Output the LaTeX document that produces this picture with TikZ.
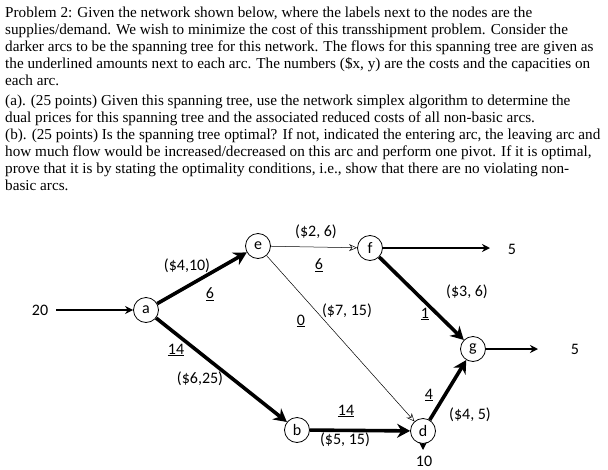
\documentclass[tikz,border=0pt]{standalone}
\usepackage{fontspec}
\setmainfont{Liberation Serif}
\newfontfamily\lab{Carlito}
\usetikzlibrary{arrows.meta}
\begin{document}
\begin{tikzpicture}[x=1pt,y=-1pt,
  nd/.style={circle,draw,line width=0.8pt,minimum size=25pt,inner sep=0pt,font=\lab\fontsize{16}{16}\selectfont,fill=white},
  tl/.style={anchor=base west,inner sep=0pt,font=\fontsize{15.2}{15}\selectfont},
  lb/.style={inner sep=1pt,font=\lab\fontsize{16}{16}\selectfont},
  thick arc/.style={line width=3.6pt,-{Stealth[length=13pt,width=14pt]}},
  thin arc/.style={line width=0.5pt,-{Stealth[length=8pt,width=7pt,open]}},
  ext/.style={line width=1.3pt,-{Stealth[length=8pt,width=8pt]}}]
\useasboundingbox (0,0) rectangle (608,469);
\node[tl] (t1) at (5,17) {Problem 2: Given the network shown below, where the labels next to the nodes are the};
\node[tl] (t2) at (5,34) {supplies/demand. We wish to minimize the cost of this transshipment problem. Consider the};
\node[tl] (t3) at (5,51) {darker arcs to be the spanning tree for this network. The flows for this spanning tree are given as};
\node[tl] (t4) at (5,68) {the underlined amounts next to each arc. The numbers (\$x, y) are the costs and the capacities on};
\node[tl] (t5) at (5,85) {each arc.};
\node[tl] (t6) at (5,105) {(a). (25 points) Given this spanning tree, use the network simplex algorithm to determine the};
\node[tl] (t7) at (5,122) {dual prices for this spanning tree and the associated reduced costs of all non-basic arcs.};
\node[tl] (t8) at (5,139) {(b). (25 points) Is the spanning tree optimal? If not, indicated the entering arc, the leaving arc and};
\node[tl] (t9) at (5,156) {how much flow would be increased/decreased on this arc and perform one pivot. If it is optimal,};
\node[tl] (t10) at (5,173) {prove that it is by stating the optimality conditions, i.e., show that there are no violating non-};
\node[tl] (t11) at (5,190) {basic arcs.};
% nodes
\node[nd] (a) at (146,310) {a};
\node[nd] (e) at (258,246) {e};
\node[nd] (f) at (370,248) {f};
\node[nd] (g) at (473,349) {g};
\node[nd] (b) at (297,430) {b};
\node[nd] (d) at (423,431) {d};
% external
\node[lb] (s20) at (40,310) {20};
\coordinate (s20r) at (56,310);
\node[lb] (f5) at (512,249) {5};
\coordinate (f5l) at (490,248);
\node[lb] (g5) at (575,349) {5};
\coordinate (g5l) at (538,349);
\node[lb] (d10) at (424,461) {10};
\coordinate (d10t) at (423,450);
% arcs
\draw[ext] (s20r) -- (a);
\draw[ext] (f) -- (f5l);
\draw[ext] (g) -- (g5l);
\draw[ext] (d) -- (d10t);
\draw[thick arc] (a) -- (e);
\draw[thick arc] (a) -- (b);
\draw[thick arc] (b) -- (d);
\draw[thick arc] (f) -- (g);
\draw[thick arc] (d) -- (g);
\draw[thin arc] (e) -- (f);
\draw[thin arc] (e) -- (d);
% labels
\node[lb] (l1) at (187,266) {(\$4,10)};
\node[lb] (l2) at (210,294) {\underline{6}};
\node[lb] (l3) at (316,232) {(\$2, 6)};
\node[lb] (l4) at (319,265) {\underline{6}};
\node[lb] (l5) at (301,321) {\underline{0}};
\node[lb] (l6) at (347,311) {(\$7, 15)};
\node[lb] (l7) at (425,314) {\underline{1}};
\node[lb] (l8) at (467,292) {(\$3, 6)};
\node[lb] (l9) at (176,350) {\underline{14}};
\node[lb] (l10) at (200,379) {(\$6,25)};
\node[lb] (l11) at (346,411) {\underline{14}};
\node[lb] (l12) at (345,440) {(\$5, 15)};
\node[lb] (l13) at (429,395) {\underline{4}};
\node[lb] (l14) at (470,415) {(\$4, 5)};
\end{tikzpicture}
\end{document}
